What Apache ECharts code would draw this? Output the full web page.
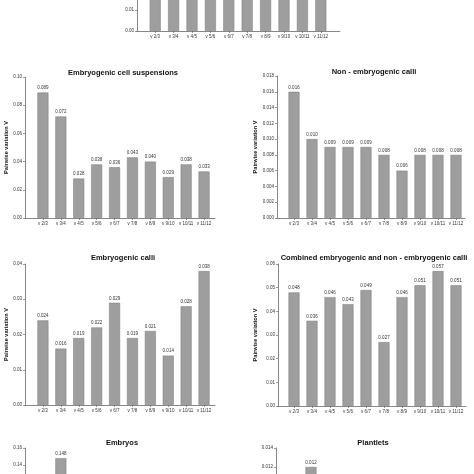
<!DOCTYPE html>
<html lang="en">
  <head>
    <meta charset="utf-8" />
    <title>Pairwise variation</title>
    <style>
      * {
        margin: 0;
        padding: 0;
      }
      body {
        overflow: hidden;
      }
      /* the figure is taller than the window: the top and bottom panels are cut */
      #chart-container {
        position: absolute;
        top: -200px;
        left: 0;
        height: 874px;
        width: 474px;
        background: #fff;
      }
    </style>
  </head>
  <body>
    <div id="chart-container"></div>
    <script src="https://fastly.jsdelivr.net/npm/echarts@6/dist/echarts.min.js"></script>
    <script>
      // pairwise variation values, one list per sample group
      var categories = ["v 2/3", "v 3/4", "v 4/5", "v 5/6", "v 6/7", "v 7/8", "v 8/9", "v 9/10", "v 10/11", "v 11/12"];
      var allSamplesV = [0.045, 0.04, 0.035, 0.036, 0.034, 0.035, 0.033, 0.032, 0.033, 0.031]; // only the bottom is visible
      var cellSuspensionV = [0.089, 0.072, 0.028, 0.038, 0.036, 0.043, 0.04, 0.029, 0.038, 0.033];
      var nonEmbCalliV = [0.016, 0.01, 0.009, 0.009, 0.009, 0.008, 0.006, 0.008, 0.008, 0.008];
      var embCalliV = [0.024, 0.016, 0.019, 0.022, 0.029, 0.019, 0.021, 0.014, 0.028, 0.038];
      var combinedCalliV = [0.048, 0.036, 0.046, 0.043, 0.049, 0.027, 0.046, 0.051, 0.057, 0.051];
      var embryosV = [0.11, 0.148, 0.07, 0.05, 0.045, 0.04, 0.035, 0.03, 0.03, 0.025];
      var plantletsV = [0.009, 0.012, 0.008, 0.007, 0.006, 0.006, 0.005, 0.005, 0.005, 0.004];

      var font = "Liberation Sans";
      var dark = "#333";
      var shift = 200; // container starts 200px above the window

      // layout of each panel in window pixels (axis x, first category x, categories width, axis line end, top, height)
      var panels = [
        { title: "", data: allSamplesV, axisX: 137, left: 146, width: 184, lineEnd: 340, top: -95, height: 126, max: 0.06, interval: 0.01, dec: 2, tx: 240, ty: -112, gap: 4 },
        { title: "Embryogenic cell suspensions", data: cellSuspensionV, axisX: 25, left: 34, width: 179, lineEnd: 215, top: 77, height: 141, max: 0.1, interval: 0.02, dec: 2, tx: 123, ty: 69, gap: 4 },
        { title: "Non - embryogenic calli", data: nonEmbCalliV, axisX: 277, left: 285, width: 180, lineEnd: 465, top: 76, height: 142, max: 0.018, interval: 0.002, dec: 3, tx: 374, ty: 68, gap: 19 },
        { title: "Embryogenic calli", data: embCalliV, axisX: 25, left: 34, width: 179, lineEnd: 215, top: 264, height: 141, max: 0.04, interval: 0.01, dec: 2, tx: 123, ty: 254, gap: 4 },
        { title: "Combined embryogenic and non - embryogenic calli", data: combinedCalliV, axisX: 278, left: 285, width: 180, lineEnd: 466, top: 264, height: 142, max: 0.06, interval: 0.01, dec: 2, tx: 374, ty: 254, gap: 20 },
        { title: "Embryos", data: embryosV, axisX: 25, left: 34, width: 179, lineEnd: 215, top: 448, height: 136, max: 0.16, interval: 0.02, dec: 2, tx: 122, ty: 439, gap: 4 },
        { title: "Plantlets", data: plantletsV, axisX: 276, left: 284, width: 180, lineEnd: 465, top: 448, height: 133, max: 0.014, interval: 0.002, dec: 3, tx: 373, ty: 439, gap: 19 },
      ];

      var dom = document.getElementById("chart-container");
      var myChart = echarts.init(dom, null, { renderer: "canvas" });

      var option = {
        animation: false,
        textStyle: { fontFamily: font },
        title: [],
        grid: [],
        xAxis: [],
        yAxis: [],
        series: [],
      };

      panels.forEach(function (p, i) {
        var dec = p.dec;
        var top = p.top + shift;
        // bar grid
        option.grid.push({ left: p.left, top: top, width: p.width, height: p.height });
        // frame grid: only used to draw the full length of the x axis line
        option.grid.push({ left: p.axisX, top: top, width: p.lineEnd - p.axisX, height: p.height });

        option.title.push({
          text: p.title,
          left: p.tx,
          top: p.ty + shift,
          textAlign: "center",
          padding: 0,
          textStyle: { fontFamily: font, fontSize: 7.5, fontWeight: "bold", color: "#111" },
        });

        option.xAxis.push({
          type: "category",
          gridIndex: 2 * i,
          data: categories,
          axisLine: { show: false },
          axisTick: { show: true, alignWithLabel: true, length: 2, lineStyle: { color: "#555", width: 0.6 } },
          axisLabel: { fontSize: 4.5, color: dark, margin: 3, interval: 0, fontFamily: font },
        });
        option.xAxis.push({
          type: "value",
          gridIndex: 2 * i + 1,
          min: 0,
          max: 1,
          axisLine: { show: true, lineStyle: { color: "#555", width: 0.7 } },
          axisTick: { show: false },
          axisLabel: { show: false },
          splitLine: { show: false },
        });

        option.yAxis.push({
          type: "value",
          gridIndex: 2 * i,
          min: 0,
          max: p.max,
          interval: p.interval,
          offset: p.left - p.axisX,
          name: "Pairwise variation V",
          nameLocation: "middle",
          nameGap: p.gap,
          nameTextStyle: { fontFamily: font, fontSize: 5.6, fontWeight: "bold", color: "#111" },
          axisLine: { show: true, lineStyle: { color: "#555", width: 0.7 } },
          axisTick: { show: true, length: 2, lineStyle: { color: "#555", width: 0.6 } },
          axisLabel: {
            fontSize: 4.5,
            color: dark,
            margin: 3,
            fontFamily: font,
            formatter: function (v) {
              return v.toFixed(dec);
            },
          },
          splitLine: { show: false },
        });
        option.yAxis.push({ type: "value", gridIndex: 2 * i + 1, show: false });

        option.series.push({
          type: "bar",
          xAxisIndex: 2 * i,
          yAxisIndex: 2 * i,
          data: p.data,
          barWidth: 11,
          itemStyle: { color: "#9e9e9e", borderColor: "#7a7a7a", borderWidth: 0.5 },
          label: {
            show: true,
            position: "top",
            distance: 2,
            fontSize: 4.5,
            color: dark,
            fontFamily: font,
            formatter: function (d) {
              return d.value.toFixed(3);
            },
          },
        });
      });

      myChart.setOption(option);
      window.addEventListener("resize", myChart.resize);
    </script>
  </body>
</html>
